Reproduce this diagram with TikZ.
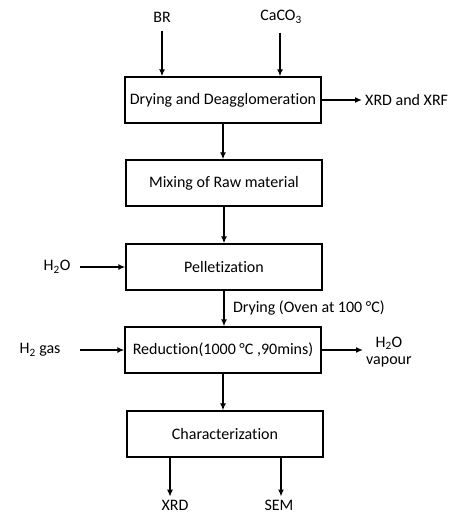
\documentclass[tikz,border=0pt]{standalone}
\usepackage{fontspec}
\setmainfont{Carlito}[Ligatures={NoCommon}]
\usetikzlibrary{arrows.meta}
\tikzset{
  stepbox/.style={
    rectangle,
    draw=black,
    line width=1.3pt,
    minimum width=196pt,
    minimum height=46pt,
    inner sep=0,
  },
  tag/.style={
    inner sep=3pt,
  },
  flow/.style={
    -{Latex[length=7pt,width=6pt]},
    line width=1.4pt,
  },
}

\begin{document}
\begin{tikzpicture}[x=1pt,y=-1pt,font=\fontsize{16}{19}\selectfont]
    \useasboundingbox (0,0) rectangle (474,524);

    % process steps
    \node[stepbox] at (223,100) (dry) {Drying and Deagglomeration};
    \node[stepbox] at (224,183) (mix) {Mixing of Raw material};
    \node[stepbox] at (224,267) (pel) {Pelletization};
    \node[stepbox] at (223,350) (red) {Reduction(1000 °C ,90mins)};
    \node[stepbox] at (225,434) (cha) {Characterization};

    % inputs and outputs
    \node[tag] at (162,17) (br) {BR};
    \node[tag] at (281,17) (caco) {CaCO\textsubscript{3}};
    \node[tag,anchor=west] at (362,100) (xrdf) {XRD and XRF};
    \node[tag] at (57,267) (water) {H\textsubscript{2}O};
    \node[tag] at (40,350) (hgas) {H\textsubscript{2} gas};
    \node[tag,align=center,anchor=west] at (363,352) (vap) {H\textsubscript{2}O\\[-2pt]vapour};
    \node[tag] at (175,505) (xrd) {XRD};
    \node[tag] at (279,505) (sem) {SEM};

    \draw[flow,shorten <=6pt] (br.south) -- (br.south |- dry.north);
    \draw[flow,shorten <=6pt] ([xshift=-1pt]caco.south) -- ([xshift=-1pt]caco.south |- dry.north);
    \draw[flow] (dry.east) -- (xrdf.west);
    \draw[flow] (dry.south) -- (dry.south |- mix.north);
    \draw[flow] (mix.south) -- (mix.south |- pel.north);
    \draw[flow,shorten <=6pt] (water) -- (pel);
    \draw[flow] (pel.south) -- node[right=5pt] {Drying (Oven at 100 °C)} (pel.south |- red.north);
    \draw[flow,shorten <=16pt] (hgas) -- (red);
    \draw[flow] (red.east) -- (red.east -| vap.west);
    \draw[flow] (red.south) -- (red.south |- cha.north);
    \draw[flow] ([xshift=-5pt]xrd.north |- cha.south) -- ([xshift=-5pt]xrd.north);
    \draw[flow] ([xshift=2pt]sem.north |- cha.south) -- ([xshift=2pt]sem.north);
\end{tikzpicture}
\end{document}
